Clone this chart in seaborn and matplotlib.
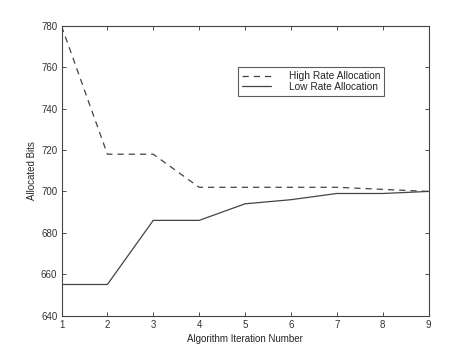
import pandas as pd
import matplotlib.pyplot as plt
import seaborn as sns

# Values
iterations = [1, 2, 3, 4, 5, 6, 7, 8, 9]
high_rate = [780, 718, 718, 702, 702, 702, 702, 701, 700]
low_rate = [655, 655, 686, 686, 694, 696, 699, 699, 700]
series_names = ['High Rate Allocation', 'Low Rate Allocation']

data = pd.DataFrame({
    'Iteration': iterations * 2,
    'Bits': high_rate + low_rate,
    'Series': [series_names[0]] * len(iterations) + [series_names[1]] * len(iterations),
})

sns.set_style('ticks')
plt.rcParams['font.family'] = ['Liberation Sans', 'DejaVu Sans']

fig = plt.figure(figsize=(4.74, 3.55), dpi=100)
ax = fig.add_axes([61.5 / 474, 1 - 315.5 / 355, (428.5 - 61.5) / 474, (315.5 - 26) / 355])

line_color = '#444444'
sns.lineplot(data=data, x='Iteration', y='Bits', hue='Series', style='Series',
             palette=[line_color, line_color], dashes=[(5, 4), ''],
             linewidth=0.9, ax=ax)

ax.set_xlim(1, 9)
ax.set_ylim(640, 780)
ax.set_xticks(iterations)
ax.set_yticks(range(640, 781, 20))
ax.set_xlabel('Algorithm Iteration Number', fontsize=7, labelpad=3)
ax.set_ylabel('Allocated Bits', fontsize=7, labelpad=3)
ax.tick_params(direction='in', top=True, right=True, labelsize=7,
               length=3, width=0.6, colors='#333333', pad=3)
for spine in ax.spines.values():
    spine.set_visible(True)
    spine.set_linewidth(0.8)
    spine.set_color('#444444')

leg = ax.legend(loc='upper left', bbox_to_anchor=((238 - 61.5) / 367, 1 - (67.3 - 26) / 289.5),
                fontsize=7.3, frameon=True, fancybox=False, handlelength=2.9,
                handletextpad=1.7, labelspacing=0.05, borderpad=0.4, borderaxespad=0)
leg.get_frame().set_edgecolor('#333333')
leg.get_frame().set_linewidth(0.8)
leg.set_title(None)

fig.savefig('out.png', dpi=100)
